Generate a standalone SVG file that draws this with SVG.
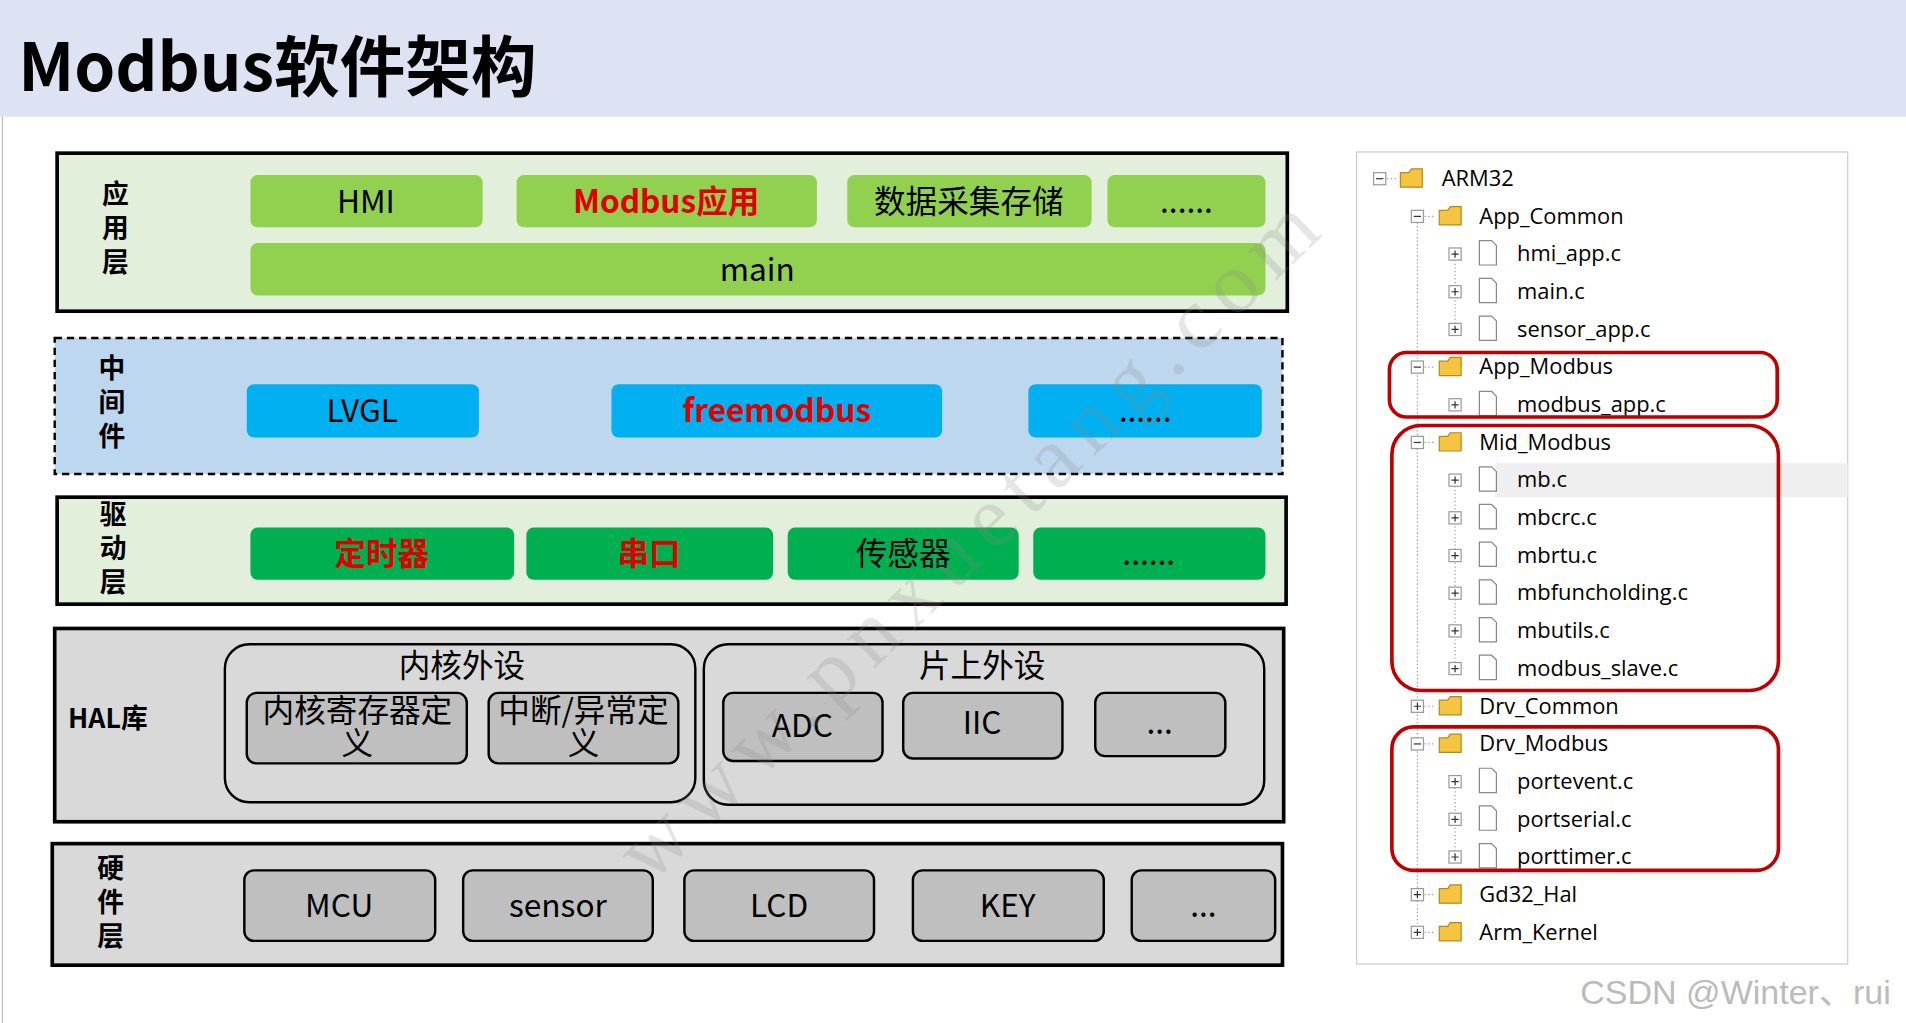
<svg xmlns="http://www.w3.org/2000/svg" width="1906" height="1023" viewBox="0 0 1906 1023">
<style>
text{font-family:"Noto Sans CJK SC","Noto Sans",sans-serif}
.lay{stroke:#000;stroke-width:3}
.g{fill:#92d050}.b{fill:#00b0f0}.dg{fill:#00b050}
.gb{fill:#bfbfbf;stroke:#000;stroke-width:2}
.t{font-size:26px;text-anchor:middle;fill:#000}
.r{fill:#e00000;font-weight:bold}
.lb{font-size:22px;font-weight:bold;text-anchor:middle}
.tr{font-size:18px;fill:#000;font-family:"Open Sans","Noto Sans",sans-serif}
.ex{fill:#fff;stroke:#999;stroke-width:1}
.red{fill:none;stroke:#c00000;stroke-width:3}
.dot{stroke:#999;stroke-dasharray:1 2;fill:none}
</style>
<defs>
<g id="fold"><path d="M0,4 h7 l2,-3 h9 v15 h-18z" fill="#f5c542" stroke="#b08a20"/></g>
<g id="file"><path d="M2,-2 h10 l4,4 v16 h-14z" fill="#fff" stroke="#888"/></g>
<g id="plus"><rect x="-5" y="-5" width="10" height="10" class="ex"/><path d="M-3,0h6M0,-3v6" stroke="#333"/></g>
<g id="minus"><rect x="-5" y="-5" width="10" height="10" class="ex"/><path d="M-3,0h6" stroke="#333"/></g>
</defs>
<g transform="scale(1.2156)">
<rect x="0" y="0" width="1568" height="96" fill="#dde3f3"/>
<line x1="2" y1="96" x2="2" y2="842" stroke="#bbb"/>
<text x="15" y="75" font-size="54" font-weight="bold">Modbus软件架构</text>

<g id="app">
<rect x="47" y="126" width="1012" height="130" fill="#e2efda" class="lay"/>
<text class="lb" x="95" y="168">应</text><text class="lb" x="95" y="196">用</text><text class="lb" x="95" y="224">层</text>
<rect class="g" x="206" y="144" width="191" height="43" rx="6"/><text class="t" x="301" y="175">HMI</text>
<rect class="g" x="425" y="144" width="247" height="43" rx="6"/><text class="t r" x="548" y="175">Modbus应用</text>
<rect class="g" x="697" y="144" width="201" height="43" rx="6"/><text class="t" x="797" y="175">数据采集存储</text>
<rect class="g" x="911" y="144" width="130" height="43" rx="6"/><text class="t" x="976" y="175">......</text>
<rect class="g" x="206" y="200" width="835" height="43" rx="6"/><text class="t" x="623" y="231">main</text>
</g>
<g id="mid">
<rect x="45" y="278" width="1010" height="112" fill="#bdd7ee" stroke="#000" stroke-width="2" stroke-dasharray="6 4"/>
<text class="lb" x="92" y="311">中</text><text class="lb" x="92" y="339">间</text><text class="lb" x="92" y="367">件</text>
<rect class="b" x="203" y="316" width="191" height="44" rx="6"/><text class="t" x="298" y="347">LVGL</text>
<rect class="b" x="503" y="316" width="272" height="44" rx="6"/><text class="t r" x="639" y="347">freemodbus</text>
<rect class="b" x="846" y="316" width="192" height="44" rx="6"/><text class="t" x="942" y="347">......</text>
</g>
<g id="drv">
<rect x="47" y="409" width="1011" height="88" fill="#e2efda" class="lay"/>
<text class="lb" x="93" y="431">驱</text><text class="lb" x="93" y="459">动</text><text class="lb" x="93" y="487">层</text>
<rect class="dg" x="206" y="434" width="217" height="43" rx="6"/><text class="t r" x="314" y="465">定时器</text>
<rect class="dg" x="433" y="434" width="203" height="43" rx="6"/><text class="t r" x="534" y="465">串口</text>
<rect class="dg" x="648" y="434" width="190" height="43" rx="6"/><text class="t" x="743" y="465">传感器</text>
<rect class="dg" x="850" y="434" width="191" height="43" rx="6"/><text class="t" x="945" y="465">......</text>
</g>
<g id="hal">
<rect x="45" y="517" width="1011" height="159" fill="#d9d9d9" class="lay"/>
<text x="56" y="599" font-size="22" font-weight="bold">HAL库</text>
<rect x="185" y="530" width="387" height="130" rx="20" fill="#d9d9d9" stroke="#000" stroke-width="2"/>
<text class="t" x="380" y="557">内核外设</text>
<rect class="gb" x="203" y="570" width="181" height="58" rx="8"/><text class="t" font-size="21" x="294" y="594">内核寄存器定</text><text class="t" font-size="21" x="294" y="621">义</text>
<rect class="gb" x="402" y="570" width="156" height="58" rx="8"/><text class="t" font-size="21" x="480" y="594">中断/异常定</text><text class="t" font-size="21" x="480" y="621">义</text>
<rect x="579" y="530" width="461" height="132" rx="20" fill="#d9d9d9" stroke="#000" stroke-width="2"/>
<text class="t" x="808" y="557">片上外设</text>
<rect class="gb" x="595" y="570" width="131" height="56" rx="8"/><text class="t" x="660" y="606">ADC</text>
<rect class="gb" x="743" y="570" width="131" height="54" rx="8"/><text class="t" x="808" y="604">IIC</text>
<rect class="gb" x="901" y="570" width="107" height="52" rx="8"/><text class="t" x="954" y="604">...</text>
</g>
<g id="hw">
<rect x="43" y="694" width="1012" height="100" fill="#d9d9d9" class="lay"/>
<text class="lb" x="91" y="722">硬</text><text class="lb" x="91" y="750">件</text><text class="lb" x="91" y="778">层</text>
<rect class="gb" x="201" y="716" width="157" height="58" rx="8"/><text class="t" x="279" y="754">MCU</text>
<rect class="gb" x="381" y="716" width="156" height="58" rx="8"/><text class="t" x="459" y="754">sensor</text>
<rect class="gb" x="563" y="716" width="156" height="58" rx="8"/><text class="t" x="641" y="754">LCD</text>
<rect class="gb" x="751" y="716" width="157" height="58" rx="8"/><text class="t" x="829" y="754">KEY</text>
<rect class="gb" x="931" y="716" width="118" height="58" rx="8"/><text class="t" x="990" y="754">...</text>
</g>

<g id="tree">
<rect x="1116" y="125" width="404" height="668" fill="#fff" stroke="#ccc"/>
<rect x="1230" y="381" width="290" height="28" fill="#efefef"/>
<path class="dot" d="M1135,152V147M1166,183V772M1197,214V271M1197,338V333M1197,400V550M1197,648V705M1135,147H1150M1166,178H1180M1166,302H1180M1166,364H1180M1166,581H1180M1166,612H1180M1166,736H1180M1166,767H1180"/>
<use href="#minus" x="1135" y="147"/><use href="#fold" x="1152" y="138"/><text class="tr" x="1186" y="153">ARM32</text>
<use href="#minus" x="1166" y="178"/><use href="#fold" x="1184" y="169"/><text class="tr" x="1217" y="184">App_Common</text>
<use href="#plus" x="1197" y="209"/><use href="#file" x="1215" y="200"/><text class="tr" x="1248" y="215">hmi_app.c</text>
<use href="#plus" x="1197" y="240"/><use href="#file" x="1215" y="231"/><text class="tr" x="1248" y="246">main.c</text>
<use href="#plus" x="1197" y="271"/><use href="#file" x="1215" y="262"/><text class="tr" x="1248" y="277">sensor_app.c</text>
<use href="#minus" x="1166" y="302"/><use href="#fold" x="1184" y="293"/><text class="tr" x="1217" y="308">App_Modbus</text>
<use href="#plus" x="1197" y="333"/><use href="#file" x="1215" y="324"/><text class="tr" x="1248" y="339">modbus_app.c</text>
<use href="#minus" x="1166" y="364"/><use href="#fold" x="1184" y="355"/><text class="tr" x="1217" y="370">Mid_Modbus</text>
<use href="#plus" x="1197" y="395"/><use href="#file" x="1215" y="386"/><text class="tr" x="1248" y="401">mb.c</text>
<use href="#plus" x="1197" y="426"/><use href="#file" x="1215" y="417"/><text class="tr" x="1248" y="432">mbcrc.c</text>
<use href="#plus" x="1197" y="457"/><use href="#file" x="1215" y="448"/><text class="tr" x="1248" y="463">mbrtu.c</text>
<use href="#plus" x="1197" y="488"/><use href="#file" x="1215" y="479"/><text class="tr" x="1248" y="494">mbfuncholding.c</text>
<use href="#plus" x="1197" y="519"/><use href="#file" x="1215" y="510"/><text class="tr" x="1248" y="525">mbutils.c</text>
<use href="#plus" x="1197" y="550"/><use href="#file" x="1215" y="541"/><text class="tr" x="1248" y="556">modbus_slave.c</text>
<use href="#plus" x="1166" y="581"/><use href="#fold" x="1184" y="572"/><text class="tr" x="1217" y="587">Drv_Common</text>
<use href="#minus" x="1166" y="612"/><use href="#fold" x="1184" y="603"/><text class="tr" x="1217" y="618">Drv_Modbus</text>
<use href="#plus" x="1197" y="643"/><use href="#file" x="1215" y="634"/><text class="tr" x="1248" y="649">portevent.c</text>
<use href="#plus" x="1197" y="674"/><use href="#file" x="1215" y="665"/><text class="tr" x="1248" y="680">portserial.c</text>
<use href="#plus" x="1197" y="705"/><use href="#file" x="1215" y="696"/><text class="tr" x="1248" y="711">porttimer.c</text>
<use href="#plus" x="1166" y="736"/><use href="#fold" x="1184" y="727"/><text class="tr" x="1217" y="742">Gd32_Hal</text>
<use href="#plus" x="1166" y="767"/><use href="#fold" x="1184" y="758"/><text class="tr" x="1217" y="773">Arm_Kernel</text>
<rect class="red" x="1143" y="290" width="319" height="53" rx="14"/>
<rect class="red" x="1145" y="350" width="318" height="218" rx="24"/>
<rect class="red" x="1145" y="598" width="318" height="118" rx="18"/>
</g>
<text x="0" y="0" transform="translate(535,728) rotate(-44)" font-size="72" textLength="770" fill="#888" fill-opacity="0.22" style="font-family:'Liberation Serif',serif">www.pnxuetang.com</text>
<text x="1300" y="826" font-size="28" fill="#bbb" style="font-family:'Liberation Sans','Noto Sans CJK SC',sans-serif">CSDN @Winter、rui</text>
</g>
</svg>
